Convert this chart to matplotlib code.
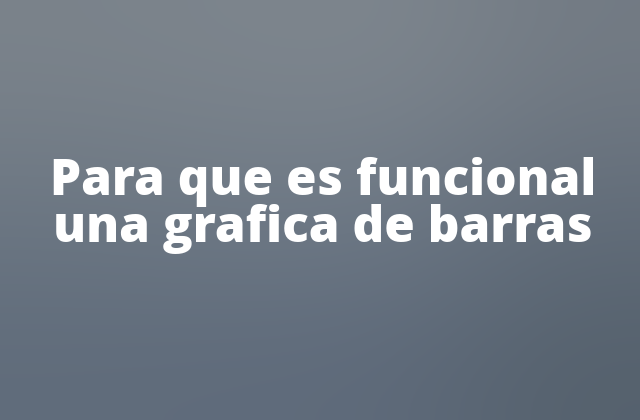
import matplotlib
matplotlib.use("Agg")
import matplotlib.pyplot as plt
import numpy as np

# Background colours (rows top->bottom, cols left->right)
bg_grid = [
    ["#7b838b", "#7d858d", "#7e868e", "#737b84"],
    ["#6c7783", "#6f7a86", "#6e7986", "#626d7a"],
    ["#606c7b", "#5f6b7b", "#5e6a7a", "#55616d"],
]
title_lines = ["Para que es funcional", "una grafica de barras"]

W, H = 640, 420
fig = plt.figure(figsize=(W / 100, H / 100), dpi=100)
ax = fig.add_axes([0, 0, 1, 1])
ax.set_axis_off()

rgb = np.array([[matplotlib.colors.to_rgb(c) for c in row] for row in bg_grid])
ax.imshow(rgb, aspect="auto", interpolation="bicubic", extent=[0, W, H, 0])
ax.set_xlim(0, W)
ax.set_ylim(H, 0)

ax.text(323, 241.5, "\n".join(title_lines), ha="center", va="baseline",
        multialignment="center", color="white", linespacing=0.9,
        fontsize=35.6, fontweight=800, family=["Open Sans", "DejaVu Sans"])

fig.savefig("out.png", dpi=100)
